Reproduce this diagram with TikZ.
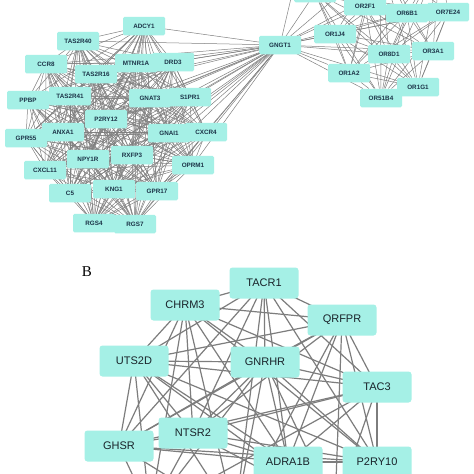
\documentclass[tikz,border=0pt]{standalone}
\usepackage{fontspec}
\setmainfont{Liberation Sans}
\newfontfamily\serifB{Liberation Serif}
\definecolor{nodefill}{RGB}{165,240,230}
\definecolor{edgeA}{RGB}{128,128,128}
\definecolor{edgeB}{RGB}{125,125,125}
\definecolor{textA}{RGB}{28,52,72}
\definecolor{textB}{RGB}{25,35,42}
\pgfdeclarelayer{bg}
\pgfsetlayers{bg,main}
\tikzset{
  na/.style={rectangle, rounded corners=1.5pt, fill=nodefill, minimum width=42pt, minimum height=18.5pt, inner sep=0pt, font=\fontsize{6.3}{7}\selectfont\bfseries, text=textA},
  nb/.style={rectangle, rounded corners=3pt, fill=nodefill, minimum width=69pt, minimum height=31pt, inner sep=0pt, font=\fontsize{11}{13}\selectfont, text=textB},
  ea/.style={draw=edgeA, line width=0.5pt},
  eb/.style={draw=edgeB, line width=1.2pt},
}
\begin{document}
\begin{tikzpicture}[x=1pt,y=-1pt]
\useasboundingbox (0,0) rectangle (474,474);
\begin{pgfonlayer}{bg}
\fill[white] (0,0) rectangle (474,474);
\end{pgfonlayer}
\clip (0,0) rectangle (474,474);
% ---------- network A ----------
\node[na] (ADCY1) at (144,26) {ADCY1};
\node[na] (TAS2R40) at (78,41) {TAS2R40};
\node[na] (CCR8) at (46,64) {CCR8};
\node[na] (MTNR1A) at (136,63) {MTNR1A};
\node[na] (DRD3) at (173,62) {DRD3};
\node[na] (TAS2R16) at (96,74) {TAS2R16};
\node[na] (PPBP) at (28,100) {PPBP};
\node[na] (TAS2R41) at (70,96) {TAS2R41};
\node[na] (GNAT3) at (150,98) {GNAT3};
\node[na] (S1PR1) at (190,97) {S1PR1};
\node[na] (P2RY12) at (106,119) {P2RY12};
\node[na] (GPR55) at (26,138) {GPR55};
\node[na] (ANXA1) at (63,132) {ANXA1};
\node[na] (GNAI1) at (169,133) {GNAI1};
\node[na] (CXCR4) at (206,132) {CXCR4};
\node[na] (NPY1R) at (88,159) {NPY1R};
\node[na] (RXFP3) at (132,155) {RXFP3};
\node[na] (CXCL11) at (45,170) {CXCL11};
\node[na] (OPRM1) at (193,165) {OPRM1};
\node[na] (C5) at (70,193) {C5};
\node[na] (KNG1) at (114,189) {KNG1};
\node[na] (GPR17) at (157,191) {GPR17};
\node[na] (RGS4) at (94,223) {RGS4};
\node[na] (RGS7) at (135,224) {RGS7};
\node[na] (GNGT1) at (280,45) {GNGT1};
\node[na] (ORtop) at (315,-7) {};
\node[na] (OR1J4) at (335,34) {OR1J4};
\node[na] (OR2F1) at (365,6) {OR2F1};
\node[na] (OR6B1) at (407,13) {OR6B1};
\node[na] (OR7E24) at (448,12) {OR7E24};
\node[na] (OR8D1) at (389,54) {OR8D1};
\node[na] (OR3A1) at (433,51) {OR3A1};
\node[na] (OR1A2) at (349,73) {OR1A2};
\node[na] (OR1G1) at (418,87) {OR1G1};
\node[na] (OR51B4) at (381,98) {OR51B4};
\coordinate (topA1) at (300,-40);
\coordinate (topA2) at (380,-40);
\coordinate (topA3) at (440,-40);
\begin{pgfonlayer}{bg}
\begin{scope}
\clip (0,0) rectangle (474,474);
\def\leftlist{ADCY1,TAS2R40,CCR8,MTNR1A,DRD3,TAS2R16,PPBP,TAS2R41,GNAT3,S1PR1,P2RY12,GPR55,ANXA1,GNAI1,CXCR4,NPY1R,RXFP3,CXCL11,OPRM1,C5,KNG1,GPR17,RGS4,RGS7}
\foreach \a [count=\i] in \leftlist {
  \foreach \b [count=\j] in \leftlist {
    \ifnum\j>\i \draw[ea] (\a.center) -- (\b.center); \fi
  }
  \draw[ea] (GNGT1.center) -- (\a.center);
}
\def\orlist{ORtop,OR1J4,OR2F1,OR6B1,OR7E24,OR8D1,OR3A1,OR1A2,OR1G1,OR51B4,topA2,topA3}
\foreach \a [count=\i] in \orlist {
  \foreach \b [count=\j] in \orlist {
    \ifnum\j>\i \draw[ea] (\a) -- (\b); \fi
  }
  \draw[ea] (GNGT1.center) -- (\a);
}
\draw[ea] (GNGT1.center) -- (topA1);
\end{scope}
\end{pgfonlayer}
% ---------- network B ----------
\node[font=\serifB\fontsize{15}{16}\selectfont] (labB) at (87,272) {B};
\node[nb] (TACR1) at (264,283) {TACR1};
\node[nb] (CHRM3) at (185,305) {CHRM3};
\node[nb] (QRFPR) at (342,320) {QRFPR};
\node[nb] (UTS2D) at (134,361) {UTS2D};
\node[nb] (GNRHR) at (265,362) {GNRHR};
\node[nb] (TAC3) at (377,387) {TAC3};
\node[nb] (NTSR2) at (193,433) {NTSR2};
\node[nb] (GHSR) at (119,446) {GHSR};
\node[nb] (ADRA1B) at (288,462) {ADRA1B};
\node[nb] (P2RY10) at (377,462) {P2RY10};
\coordinate (bot1) at (150,512);
\coordinate (bot2) at (235,518);
\coordinate (bot3) at (335,508);
\begin{pgfonlayer}{bg}
\begin{scope}
\clip (0,0) rectangle (474,474);
\def\blist{TACR1,CHRM3,QRFPR,UTS2D,GNRHR,TAC3,NTSR2,GHSR,ADRA1B,P2RY10}
\foreach \a [count=\i] in \blist {
  \foreach \b [count=\j] in \blist {
    \ifnum\j>\i \draw[eb] (\a.center) -- (\b.center); \fi
  }
}
\foreach \a in {GHSR,NTSR2,UTS2D,CHRM3,GNRHR,TAC3} \draw[eb] (\a.center) -- (bot1);
\foreach \a in {UTS2D,CHRM3,TACR1,GNRHR,GHSR,QRFPR} \draw[eb] (\a.center) -- (bot2);
\foreach \a in {ADRA1B,TAC3,QRFPR,GNRHR,NTSR2,UTS2D} \draw[eb] (\a.center) -- (bot3);
\end{scope}
\end{pgfonlayer}
\end{tikzpicture}
\end{document}
